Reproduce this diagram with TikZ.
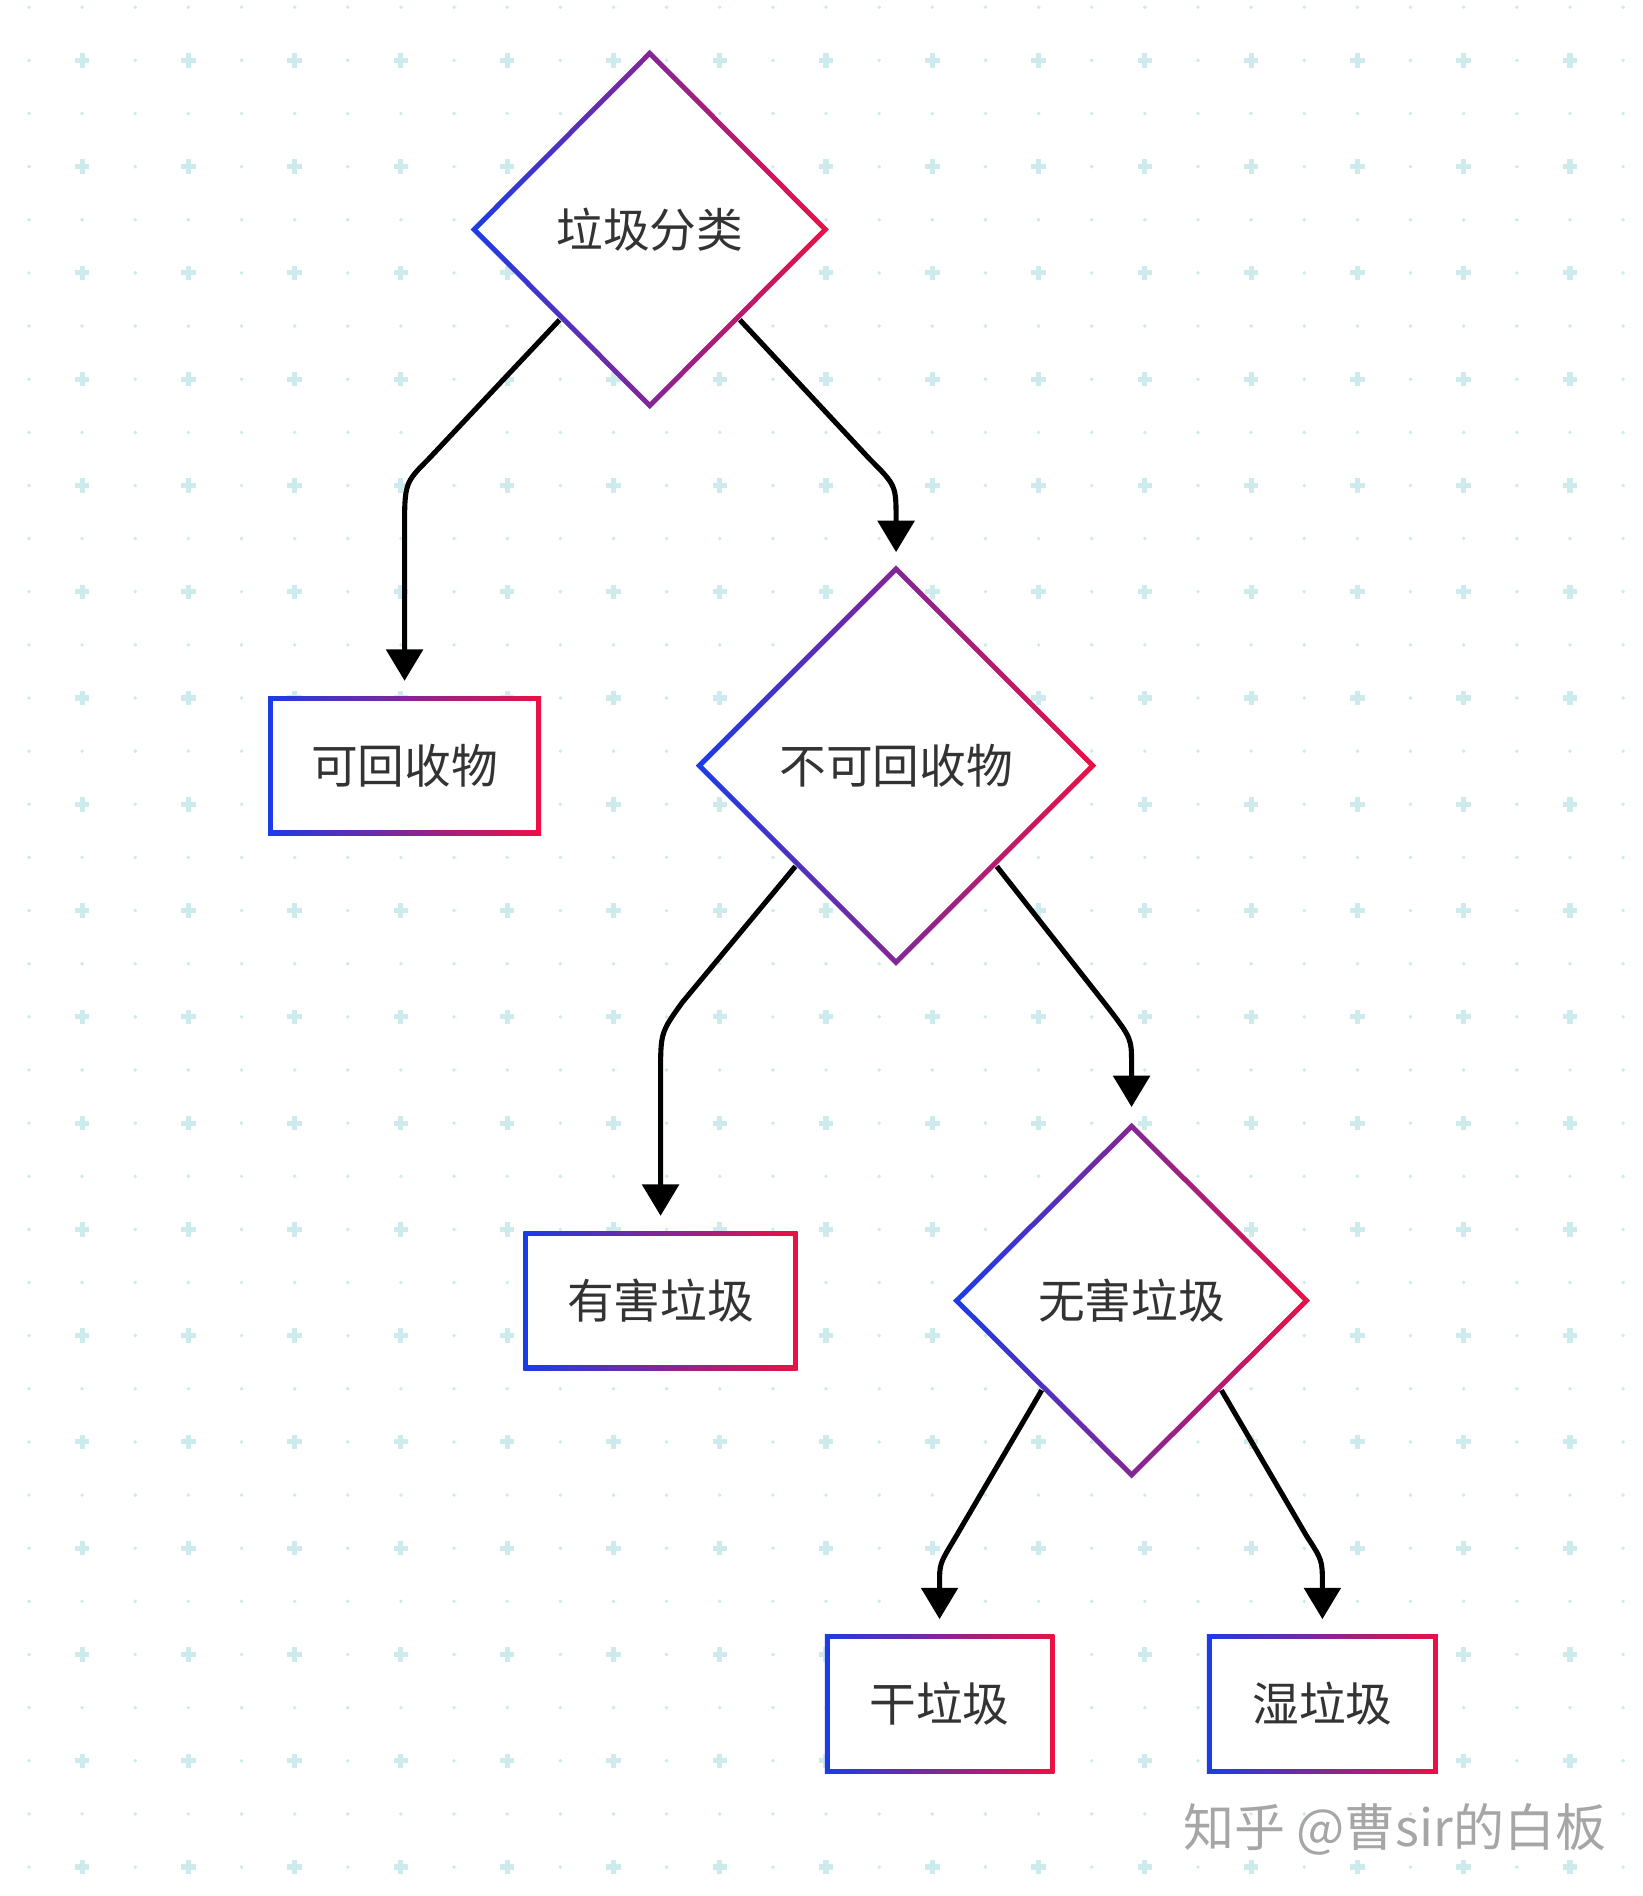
\documentclass[tikz,border=0pt]{standalone}
\usepackage{fontspec}
\setmainfont{Noto Sans CJK SC}
\usetikzlibrary{shapes.geometric,arrows.meta,calc}
\definecolor{gb}{HTML}{1A3CE8}
\definecolor{gr}{HTML}{EC1044}
\definecolor{grid}{HTML}{CDEBEC}
\tikzset{
  shd/.style={left color=gb,right color=gr,inner sep=0pt},
  dia/.style={shd,diamond},
  inn/.style={fill=white,inner sep=0pt,font=\fontsize{11}{13}\selectfont,text=black!80},
  box/.style={shd,rectangle},
  arr/.style={line width=1.2pt,-{Triangle[length=0.26cm,width=0.3cm]}},
}
\begin{document}
\begin{tikzpicture}[x=0.01cm,y=0.01cm]
\useasboundingbox[fill=white] (0,0) rectangle (1360,-1570);
% background grid
\foreach \i in {0,...,30}{\foreach \j in {0,...,35}{
  \fill[grid] (24+44*\i,-6-44*\j) circle (1.6);}}
\foreach \i in {0,...,14}{\foreach \j in {0,...,17}{
  \fill[white] (68+88*\i,-50-88*\j) circle (3);
  \draw[grid,line width=1.2pt] (62+88*\i,-50-88*\j) -- (74+88*\i,-50-88*\j) (68+88*\i,-44-88*\j) -- (68+88*\i,-56-88*\j);}}
% diamonds
\node[dia,minimum width=2.97cm,minimum height=2.98cm] (d1) at (538,-190) {};
\node[inn,diamond,minimum width=2.85cm,minimum height=2.86cm] at (d1) {垃圾分类};
\node[dia,minimum width=3.32cm,minimum height=3.32cm] (d2) at (742,-634) {};
\node[inn,diamond,minimum width=3.2cm,minimum height=3.2cm] at (d2) {不可回收物};
\node[dia,minimum width=2.96cm,minimum height=2.95cm] (d3) at (937,-1077) {};
\node[inn,diamond,minimum width=2.84cm,minimum height=2.83cm] at (d3) {无害垃圾};
% boxes
\node[box,minimum width=2.26cm,minimum height=1.15cm] (r1) at (335,-634) {};
\node[inn,minimum width=2.18cm,minimum height=1.07cm] at (r1) {可回收物};
\node[box,minimum width=2.27cm,minimum height=1.15cm] (r2) at (547,-1077) {};
\node[inn,minimum width=2.19cm,minimum height=1.07cm] at (r2) {有害垃圾};
\node[box,minimum width=1.9cm,minimum height=1.15cm] (r3) at (778,-1411) {};
\node[inn,minimum width=1.82cm,minimum height=1.07cm] at (r3) {干垃圾};
\node[box,minimum width=1.91cm,minimum height=1.15cm] (r4) at (1095,-1411) {};
\node[inn,minimum width=1.83cm,minimum height=1.07cm] at (r4) {湿垃圾};
% edges
\draw[arr,shorten >=0.12cm] ($(d1.west)!0.5!(d1.south)$) -- (355,-380) .. controls (335,-400) .. (335,-440) -- (r1.north);
\draw[arr,shorten >=0.1cm] ($(d1.east)!0.5!(d1.south)$) -- (720,-380) .. controls (742,-402) .. (742,-430) -- (d2.north);
\draw[arr,shorten >=0.12cm] ($(d2.west)!0.5!(d2.south)$) -- (565,-830) .. controls (547,-855) .. (547,-890) -- (r2.north);
\draw[arr,shorten >=0.12cm] ($(d2.east)!0.5!(d2.south)$) -- (918,-835) .. controls (937,-860) .. (937,-882) -- (d3.north);
\draw[arr,shorten >=0.12cm] ($(d3.west)!0.5!(d3.south)$) -- (790,-1275) .. controls (778,-1295) .. (778,-1312) -- (r3.north);
\draw[arr,shorten >=0.12cm] ($(d3.east)!0.5!(d3.south)$) -- (1082,-1272) .. controls (1095,-1292) .. (1095,-1312) -- (r4.north);
% watermark
\node[text=black!35,font=\fontsize{12}{14}\selectfont] (wm) at (1155,-1515) {知乎 @曹sir的白板};
\end{tikzpicture}
\end{document}
